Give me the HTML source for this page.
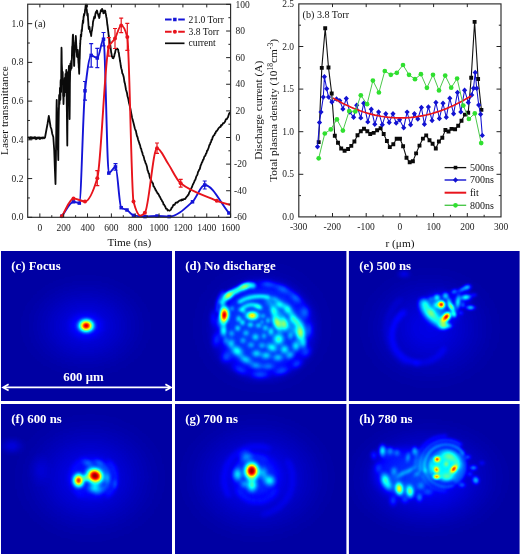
<!DOCTYPE html>
<html lang="en"><head><meta charset="utf-8"><title>Figure</title>
<style>html,body{margin:0;padding:0;background:#fff;}svg{display:block;font-family:"Liberation Serif","DejaVu Serif",serif;}.tk{font-size:9.5px;fill:#222;}.ax{font-size:11.3px;fill:#111;}.lg{font-size:9.6px;fill:#111;}.pl{font-size:12.8px;font-weight:bold;fill:#fff;}</style></head><body>
<svg width="520" height="554" viewBox="0 0 520 554">
<rect width="520" height="554" fill="#fff"/>
<defs>
<radialGradient id="gb"><stop offset="0" stop-color="#fff" stop-opacity="1"/><stop offset="0.2" stop-color="#fff" stop-opacity="0.88"/><stop offset="0.4" stop-color="#fff" stop-opacity="0.60"/><stop offset="0.6" stop-color="#fff" stop-opacity="0.32"/><stop offset="0.8" stop-color="#fff" stop-opacity="0.11"/><stop offset="1" stop-color="#fff" stop-opacity="0"/></radialGradient>
<filter id="jet" x="0" y="0" width="1" height="1" color-interpolation-filters="sRGB"><feGaussianBlur stdDeviation="0.85"/><feComponentTransfer><feFuncR type="table" tableValues="0 0 0 0 0.5 1 1 1 0.5"/><feFuncG type="table" tableValues="0 0 0.5 1 1 1 0.5 0 0"/><feFuncB type="table" tableValues="0.5 1 1 1 0.5 0 0 0 0"/><feFuncA type="linear" slope="0" intercept="1"/></feComponentTransfer></filter>
<filter id="b1" x="-0.3" y="-0.3" width="1.6" height="1.6"><feGaussianBlur stdDeviation="1.1"/></filter>
<filter id="b2" x="-0.3" y="-0.3" width="1.6" height="1.6"><feGaussianBlur stdDeviation="2.2"/></filter>
<filter id="b4" x="-0.4" y="-0.4" width="1.8" height="1.8"><feGaussianBlur stdDeviation="4.5"/></filter>
</defs>
<g id="plot-a">
<polyline fill="none" stroke="#0a0a0a" stroke-width="1.8" stroke-linejoin="round" points="27.7,138 29,137.2 30,139 31,137 32,138.8 33,137.2 34,138.6 35,137 36,139.2 37,137.4 38,138.6 39,137.2 40,139 41,137.4 42,138.5 43,137.3 44,138.4 45,137.5 46.2,131 47.5,124 48.8,116 49.8,122 50.6,127 51.4,129 52.3,134 53.3,137 54.2,150 54.9,170 55.5,184 55.9,160 56.3,128 56.43,117 56.56,106.03 56.7,100 56.83,107.45 56.96,107.6 57.1,118 57.23,122.98 57.36,125.9 57.5,132 57.63,133.52 57.76,143.95 57.9,150 58.03,148.67 58.16,155.94 58.3,160 58.43,142.5 58.56,129.51 58.7,120 58.83,111.33 58.96,107.43 59.1,96 59.23,94.88 59.36,98.51 59.5,104 59.63,99.99 59.76,97.92 59.9,88 60.03,92.73 60.16,94.89 60.3,100 60.43,98.16 60.56,82.27 60.7,80 60.83,87.54 60.96,85.82 61.1,92 61.23,73.82 61.36,58.94 61.5,47.7 61.63,51.82 61.76,62.94 61.9,66 62.03,68.75 62.16,78.7 62.3,84 62.43,81.43 62.56,74.8 62.7,72 62.83,80.4 62.96,83.47 63.1,96 63.23,94.24 63.36,98.34 63.5,104 63.63,99.86 63.76,91.4 63.9,86 64.03,87.44 64.16,93.46 64.3,96 64.43,89.59 64.56,82.12 64.7,78 64.83,85.56 64.96,89.23 65.1,92 65.23,83.5 65.36,80.86 65.5,74 65.63,78.87 65.76,86.99 65.9,88 66.03,84.35 66.16,74 66.3,70 66.43,84.7 66.56,85.98 66.7,100 66.9,114.2 67.1,132.6 67.3,145.5 67.43,127 67.56,115.36 67.7,100 67.83,86.15 67.96,83.2 68.1,72 68.23,77.29 68.36,78.01 68.5,80 68.63,79.13 68.76,68.9 68.9,66 69.03,75.87 69.16,82.78 69.3,90 69.4,100.37 69.5,108.7 69.6,119 69.7,110.85 69.8,100.35 69.9,84 70.03,77.14 70.16,72.44 70.3,64 70.47,63.34 70.63,69.17 70.8,70 70.93,67.91 71.06,67.02 71.2,61 71.33,65.24 71.46,64.33 71.6,68 71.73,62.03 71.86,58.45 72,52 72.17,46.5 72.33,46.49 72.5,44 72.67,38.91 72.83,35.5 73,34.6 73.13,36.38 73.26,45.05 73.4,48 73.53,49.08 73.66,53.09 73.8,58 73.93,59.99 74.06,65.51 74.2,66 74.37,58.2 74.53,55.14 74.7,50 74.87,47.66 75.03,47.02 75.2,42 75.4,41.94 75.6,40.22 75.8,36 75.97,37.97 76.13,42.09 76.3,46 76.47,47.13 76.63,52.27 76.8,52 76.97,56.4 77.13,53.21 77.3,57 77.47,52.75 77.63,50.77 77.8,50 77.97,51.7 78.13,56.51 78.3,60 78.47,63.17 78.63,63.86 78.8,68 78.93,66.94 79.06,71.34 79.2,73.8 79.33,68.46 79.46,65.09 79.6,60 79.73,58.76 79.86,53.22 80,48 80.13,45.45 80.26,43.43 80.4,40 80.6,39.74 80.8,34.68 81,36 81.2,36.42 81.4,33.72 81.6,30 81.8,31.26 82,29.81 82.2,27 82.37,25.03 82.53,23.75 82.7,23 82.9,20.29 83.1,23.15 83.3,22 83.47,17.72 83.63,16.1 83.8,17 83.93,14.72 84.06,13.92 84.2,15.4 84.5,13.75 84.8,13 85.05,9.75 85.3,9 85.65,5.4 86,4.6 86.25,5.82 86.5,9 86.75,9.38 87,12 87.15,13.32 87.3,15.4 87.55,13.37 87.8,14 88.05,19.05 88.3,22 88.55,25.82 88.8,29 89.15,27.02 89.5,27 89.75,28.81 90,32 90.3,32.07 90.6,33 90.9,34.12 91.2,36 91.5,32.44 91.8,31 92.1,29.98 92.4,27 92.7,25.88 93,22 93.25,20.9 93.5,20 93.85,18.45 94.2,17 94.6,16.34 95,18 95.3,14.39 95.6,13 96.05,11.81 96.5,11.5 96.85,10.49 97.2,10.8 97.5,13.32 97.8,14 98.15,14.05 98.5,16 98.85,15.66 99.2,18 99.5,17.26 99.8,14 100.15,13.08 100.5,12 100.85,10.26 101.2,10.5 101.5,10.87 101.8,11 102.05,8.78 102.3,9.2 102.65,10.18 103,11 103.4,13.24 103.8,12.8 104.1,12.92 104.4,11 104.7,11.3 105,10.5 105.3,11.08 105.6,13 105.95,14.63 106.3,17 106.65,18.32 107,21.5 107.3,24.51 107.6,26 107.95,29.09 108.3,32 108.75,36.03 109.2,38.5 109.6,40.77 110,44 110.4,45.72 110.8,49 111.15,52.27 111.5,53.8 111.9,56.51 112.3,56.5 112.65,58.09 113,57.7 113.4,58.21 113.8,57 114.2,56.39 114.6,54 115,53.17 115.4,51 115.8,49.48 116.2,49.5 116.6,49.05 117,48.5 117.4,48.6 117.8,49.5 118.15,49.58 118.5,52.3 118.85,52.83 119.2,56 119.6,57.88 120,61 120.4,62.83 120.8,66 121.3,68.54 121.8,70 122.3,73.28 122.8,74 123.3,75.6 123.8,77.5 124.4,81.87 125,83.8 126,89.77 127,93 127.5,96.32 128,97.76 128.5,100 129,103 129.5,104.76 130,106.95 130.5,109.22 131,112 131.5,114.47 132,117.22 132.5,119.36 133,121 133.6,123.21 134.2,125.78 134.8,128.29 135.4,130 135.93,131 136.45,133.79 136.97,135.99 137.5,137 138,139.26 138.5,140.95 139,142.21 139.5,144 140.06,145.12 140.62,147.92 141.18,148.8 141.74,151.34 142.3,152.5 142.84,155.05 143.38,155.71 143.92,157.42 144.46,160.1 145,161 145.5,163.07 146,163.74 146.5,165.33 147,167.04 147.5,170.06 148,171 148.5,173.09 149,173.43 149.5,176.19 150,178 150.5,178.95 151,180.2 151.5,180.98 152,182.39 152.5,182.69 153,183.53 153.5,186.3 154,186.5 154.5,187.69 155,188.38 155.5,190.03 156,190.05 156.5,191.75 157,192 157.52,193.51 158.04,193.32 158.56,194.31 159.08,195.31 159.6,196.6 160.2,197.23 160.8,198.96 161.4,199.47 162,201 162.5,201.75 163,202.14 163.5,204.44 164,204.34 164.5,205.5 165,206.22 165.5,207.25 166,208.63 166.5,208.7 167.07,209.06 167.63,210.45 168.2,210.2 168.7,210.34 169.2,210.52 169.7,210.6 170.35,210.09 171,209.5 171.5,207.8 172,207.73 172.5,207 173,205.76 173.5,204.77 174,205 174.6,204.84 175.2,203.6 175.73,202.64 176.27,202.82 176.8,202.5 177.37,202.57 177.93,201.93 178.5,201.5 179.13,200.75 179.77,200.67 180.4,200.2 180.93,200.25 181.45,200.61 181.97,199.34 182.5,200 183.05,199.91 183.6,199.15 184.15,199 184.7,199.2 185.3,198.96 185.9,197.75 186.5,197 187,196.38 187.5,196 188,194.8 188.5,194.74 189,193.2 189.5,192.05 190,191.3 190.5,190.06 191,189 191.5,187.86 192,187.01 192.5,185.5 193.07,184.21 193.63,183.16 194.2,181.9 194.77,180.39 195.35,179.74 195.93,177.83 196.5,176 197,175.48 197.5,174.4 198,171.97 198.5,171.31 199,170 199.55,169.45 200.1,167.91 200.65,165.3 201.2,164.6 201.77,162.64 202.35,161.95 202.93,160.01 203.5,159.5 204,157.83 204.5,156.33 205,156.21 205.5,155.21 206,153.5 206.53,153.09 207.05,150.63 207.57,150.51 208.1,149 208.7,147.66 209.3,145.11 209.9,144.81 210.5,142.5 211.02,142.14 211.54,139.6 212.06,139.71 212.58,137.52 213.1,136.5 213.73,135.38 214.37,135.18 215,133.2 215.54,133.12 216.08,131.23 216.62,131.04 217.16,130.51 217.7,129.8 218.27,128.81 218.85,127.85 219.43,127.37 220,127 220.5,126.9 221,125.14 221.5,125.6 222,124.89 222.5,124.5 223.03,123.08 223.55,123.1 224.07,123.07 224.6,122.3 225.23,121.22 225.87,119.32 226.5,119 227,119 227.5,117.77 228,117.22 228.5,115.5 229.13,113.62 229.77,112.74 230.4,112"/>
<path d="M61.9,216.2C65.77,211.4 69.63,201.8 73.5,201.8C75.43,201.8 77.37,203.1 79.3,203.1C81.2,203.1 83.1,107.75 85,90.8C87.07,72.36 89.13,55.4 91.2,55.4C93.23,55.4 95.27,58 97.3,58C99.37,58 101.43,39.2 103.5,39.2C105.27,39.2 107.03,173.1 108.8,173.1C111.03,173.1 113.27,166.9 115.5,166.9C117.4,166.9 119.3,206.27 121.2,207.7C123.13,209.16 125.07,208.97 127,210C129.17,211.16 131.33,214.97 133.5,215.4C137.33,216.17 141.17,216.6 145,216.6C149,216.6 153,216 157,216C161.03,216 165.07,216.6 169.1,216.6C176.9,216.6 184.7,208.83 192.5,201.8C196.57,198.13 200.63,185 204.7,185C212.77,185 220.83,203.67 228.9,213" fill="none" stroke="#1414d8" stroke-width="1.9" stroke-linejoin="round"/>
<path d="M85,81.5V100.1M83,81.5h4M83,100.1h4M91.2,43.6V67.2M89.2,43.6h4M89.2,67.2h4M97.3,48.4V67.6M95.3,48.4h4M95.3,67.6h4M103.5,32.5V45.9M101.5,32.5h4M101.5,45.9h4M115.5,163.6V170.2M113.5,163.6h4M113.5,170.2h4M204.7,181V189M202.7,181h4M202.7,189h4" fill="none" stroke="#1414d8" stroke-width="1.2"/>
<rect x="60.15" y="214.45" width="3.5" height="3.5" fill="#1414d8"/>
<rect x="71.75" y="200.05" width="3.5" height="3.5" fill="#1414d8"/>
<rect x="77.55" y="201.35" width="3.5" height="3.5" fill="#1414d8"/>
<rect x="83.25" y="89.05" width="3.5" height="3.5" fill="#1414d8"/>
<rect x="89.45" y="53.65" width="3.5" height="3.5" fill="#1414d8"/>
<rect x="95.55" y="56.25" width="3.5" height="3.5" fill="#1414d8"/>
<rect x="101.75" y="37.45" width="3.5" height="3.5" fill="#1414d8"/>
<rect x="107.05" y="171.35" width="3.5" height="3.5" fill="#1414d8"/>
<rect x="113.75" y="165.15" width="3.5" height="3.5" fill="#1414d8"/>
<rect x="119.45" y="205.95" width="3.5" height="3.5" fill="#1414d8"/>
<rect x="125.25" y="208.25" width="3.5" height="3.5" fill="#1414d8"/>
<rect x="131.75" y="213.65" width="3.5" height="3.5" fill="#1414d8"/>
<rect x="143.25" y="214.85" width="3.5" height="3.5" fill="#1414d8"/>
<rect x="155.25" y="214.25" width="3.5" height="3.5" fill="#1414d8"/>
<rect x="167.35" y="214.85" width="3.5" height="3.5" fill="#1414d8"/>
<rect x="190.75" y="200.05" width="3.5" height="3.5" fill="#1414d8"/>
<rect x="202.95" y="183.25" width="3.5" height="3.5" fill="#1414d8"/>
<rect x="227.15" y="211.25" width="3.5" height="3.5" fill="#1414d8"/>
<path d="M61.9,216.2C65.77,210.3 69.63,198.5 73.5,198.5C77.33,198.5 81.17,201.5 85,201.5C89.1,201.5 93.2,191.63 97.3,178.2C101.13,165.64 104.97,55.51 108.8,46.9C110.87,42.26 112.93,41.91 115,38.5C117.07,35.09 119.13,25.4 121.2,25.4C123.23,25.4 125.27,29.76 127.3,36.9C129.37,44.16 131.43,193.43 133.5,201.5C135.8,210.48 138.1,215.8 140.4,215.8C141.9,215.8 143.4,214.34 144.9,212.7C148.93,208.3 152.97,148.2 157,148.2C160.67,148.2 164.33,158.12 168,163.5C172.23,169.72 176.47,179.88 180.7,183.3C192.7,193.01 204.7,194.97 216.7,200.8C222,202.6 226,203.8 230.6,205" fill="none" stroke="#e8141c" stroke-width="1.9" stroke-linejoin="round"/>
<path d="M97.3,170.7V185.7M95.3,170.7h4M95.3,185.7h4M108.8,37.6V56.2M106.8,37.6h4M106.8,56.2h4M115,28.5V48.5M113,28.5h4M113,48.5h4M121.2,18.2V32.6M119.2,18.2h4M119.2,32.6h4M127.3,23.4V50.4M125.3,23.4h4M125.3,50.4h4M157,143V153.4M155,143h4M155,153.4h4M180.7,179.4V187.2M178.7,179.4h4M178.7,187.2h4" fill="none" stroke="#e8141c" stroke-width="1.2"/>
<circle cx="61.9" cy="216.2" r="2" fill="#e8141c"/>
<circle cx="73.5" cy="198.5" r="2" fill="#e8141c"/>
<circle cx="85" cy="201.5" r="2" fill="#e8141c"/>
<circle cx="97.3" cy="178.2" r="2" fill="#e8141c"/>
<circle cx="108.8" cy="46.9" r="2" fill="#e8141c"/>
<circle cx="115" cy="38.5" r="2" fill="#e8141c"/>
<circle cx="121.2" cy="25.4" r="2" fill="#e8141c"/>
<circle cx="127.3" cy="36.9" r="2" fill="#e8141c"/>
<circle cx="133.5" cy="201.5" r="2" fill="#e8141c"/>
<circle cx="144.9" cy="212.7" r="2" fill="#e8141c"/>
<circle cx="157" cy="148.2" r="2" fill="#e8141c"/>
<circle cx="180.7" cy="183.3" r="2" fill="#e8141c"/>
<circle cx="216.7" cy="200.8" r="2" fill="#e8141c"/>
<rect x="27.7" y="4.2" width="202.9" height="213.1" fill="none" stroke="#2a2a2a" stroke-width="1.15"/>
<path d="M39.85,217.3v-3.9M39.85,4.2v3.2M51.77,217.3v-2.1M63.69,217.3v-3.9M63.69,4.2v3.2M75.62,217.3v-2.1M87.54,217.3v-3.9M87.54,4.2v3.2M99.46,217.3v-2.1M111.38,217.3v-3.9M111.38,4.2v3.2M123.3,217.3v-2.1M135.23,217.3v-3.9M135.23,4.2v3.2M147.15,217.3v-2.1M159.07,217.3v-3.9M159.07,4.2v3.2M170.99,217.3v-2.1M182.91,217.3v-3.9M182.91,4.2v3.2M194.84,217.3v-2.1M206.76,217.3v-3.9M206.76,4.2v3.2M218.68,217.3v-2.1M230.6,217.3v-3.9M27.7,217.3h4.5M27.7,197.94h2.2M27.7,178.57h4.5M27.7,159.21h2.2M27.7,139.84h4.5M27.7,120.48h2.2M27.7,101.11h4.5M27.7,81.75h2.2M27.7,62.38h4.5M27.7,43.02h2.2M27.7,23.65h4.5M230.6,217.36h-4.5M230.6,204.05h-2.2M230.6,190.74h-4.5M230.6,177.43h-2.2M230.6,164.12h-4.5M230.6,150.81h-2.2M230.6,137.5h-4.5M230.6,124.19h-2.2M230.6,110.88h-4.5M230.6,97.57h-2.2M230.6,84.26h-4.5M230.6,70.95h-2.2M230.6,57.64h-4.5M230.6,44.33h-2.2M230.6,31.02h-4.5M230.6,17.71h-2.2M230.6,4.4h-4.5" fill="none" stroke="#222" stroke-width="1"/>
<text class="tk" x="39.85" y="230.6" text-anchor="middle">0</text>
<text class="tk" x="63.69" y="230.6" text-anchor="middle">200</text>
<text class="tk" x="87.54" y="230.6" text-anchor="middle">400</text>
<text class="tk" x="111.38" y="230.6" text-anchor="middle">600</text>
<text class="tk" x="135.23" y="230.6" text-anchor="middle">800</text>
<text class="tk" x="159.07" y="230.6" text-anchor="middle">1000</text>
<text class="tk" x="182.91" y="230.6" text-anchor="middle">1200</text>
<text class="tk" x="206.76" y="230.6" text-anchor="middle">1400</text>
<text class="tk" x="230.6" y="230.6" text-anchor="middle">1600</text>
<text class="tk" x="23.4" y="220.4" text-anchor="end">0.0</text>
<text class="tk" x="23.4" y="181.67" text-anchor="end">0.2</text>
<text class="tk" x="23.4" y="142.94" text-anchor="end">0.4</text>
<text class="tk" x="23.4" y="104.21" text-anchor="end">0.6</text>
<text class="tk" x="23.4" y="65.48" text-anchor="end">0.8</text>
<text class="tk" x="23.4" y="26.75" text-anchor="end">1.0</text>
<text class="tk" x="234" y="220.46">-60</text>
<text class="tk" x="234" y="193.84">-40</text>
<text class="tk" x="234" y="167.22">-20</text>
<text class="tk" x="235.6" y="140.6">0</text>
<text class="tk" x="235.6" y="113.98">20</text>
<text class="tk" x="235.6" y="87.36">40</text>
<text class="tk" x="235.6" y="60.74">60</text>
<text class="tk" x="235.6" y="34.12">80</text>
<text class="tk" x="235.6" y="7.5">100</text>
<text class="ax" x="129.3" y="246" text-anchor="middle">Time (ns)</text>
<text class="ax" transform="translate(8,110.6) rotate(-90)" text-anchor="middle">Laser transmittance</text>
<text class="ax" transform="translate(262,110.3) rotate(-90)" text-anchor="middle">Discharge current (A)</text>
<text class="lg" x="34.6" y="26.6" style="font-size:10px">(a)</text>
<path d="M165,19.5h6.6M178.2,19.5h6.6" stroke="#1414d8" stroke-width="1.9"/><rect x="173.1" y="17.75" width="3.5" height="3.5" fill="#1414d8"/>
<path d="M165,31.7h6.6M178.2,31.7h6.6" stroke="#e8141c" stroke-width="1.9"/><circle cx="174.9" cy="31.7" r="2" fill="#e8141c"/>
<path d="M165,43.3h19.5" stroke="#0a0a0a" stroke-width="1.7"/>
<text class="lg" x="188.6" y="22.6">21.0 Torr</text>
<text class="lg" x="188.6" y="34.8">3.8 Torr</text>
<text class="lg" x="188.6" y="46.3">current</text>
</g>
<g id="plot-b">
<polyline fill="none" stroke="#111" stroke-width="1.1" points="318.7,142.1 321.8,67.9 325.2,28.2 328.5,67.5 331.7,93.5 334.8,135.8 338,142.7 341.2,148.5 344.6,150.8 348.1,149 351.3,145.9 354.4,141.5 357.5,135.2 360.8,131.2 364,128.8 367.3,131.2 370.2,134 373.7,132.9 377.1,130.2 380.6,128.2 383.7,134 386.9,141 389.8,147.1 393.3,144.2 396.7,138.7 400,138.7 403.1,146.2 406.5,157.7 409.7,162.3 412.9,161.2 416.1,153.4 419.5,145.6 422.9,138.6 426.2,135.4 429.5,140.3 432.6,143.8 435.8,148.5 438.9,141.5 442.3,137.7 445.4,130 448.5,131.5 451.5,128.9 455.1,129.2 458.2,125.8 461.5,120.8 464.9,114.6 468.2,112.8 471.2,77.7 474.6,21.9 478.1,79 481.4,109.9"/>
<path d="M316.75,140.15h3.9v3.9h-3.9zM319.85,65.95h3.9v3.9h-3.9zM323.25,26.25h3.9v3.9h-3.9zM326.55,65.55h3.9v3.9h-3.9zM329.75,91.55h3.9v3.9h-3.9zM332.85,133.85h3.9v3.9h-3.9zM336.05,140.75h3.9v3.9h-3.9zM339.25,146.55h3.9v3.9h-3.9zM342.65,148.85h3.9v3.9h-3.9zM346.15,147.05h3.9v3.9h-3.9zM349.35,143.95h3.9v3.9h-3.9zM352.45,139.55h3.9v3.9h-3.9zM355.55,133.25h3.9v3.9h-3.9zM358.85,129.25h3.9v3.9h-3.9zM362.05,126.85h3.9v3.9h-3.9zM365.35,129.25h3.9v3.9h-3.9zM368.25,132.05h3.9v3.9h-3.9zM371.75,130.95h3.9v3.9h-3.9zM375.15,128.25h3.9v3.9h-3.9zM378.65,126.25h3.9v3.9h-3.9zM381.75,132.05h3.9v3.9h-3.9zM384.95,139.05h3.9v3.9h-3.9zM387.85,145.15h3.9v3.9h-3.9zM391.35,142.25h3.9v3.9h-3.9zM394.75,136.75h3.9v3.9h-3.9zM398.05,136.75h3.9v3.9h-3.9zM401.15,144.25h3.9v3.9h-3.9zM404.55,155.75h3.9v3.9h-3.9zM407.75,160.35h3.9v3.9h-3.9zM410.95,159.25h3.9v3.9h-3.9zM414.15,151.45h3.9v3.9h-3.9zM417.55,143.65h3.9v3.9h-3.9zM420.95,136.65h3.9v3.9h-3.9zM424.25,133.45h3.9v3.9h-3.9zM427.55,138.35h3.9v3.9h-3.9zM430.65,141.85h3.9v3.9h-3.9zM433.85,146.55h3.9v3.9h-3.9zM436.95,139.55h3.9v3.9h-3.9zM440.35,135.75h3.9v3.9h-3.9zM443.45,128.05h3.9v3.9h-3.9zM446.55,129.55h3.9v3.9h-3.9zM449.55,126.95h3.9v3.9h-3.9zM453.15,127.25h3.9v3.9h-3.9zM456.25,123.85h3.9v3.9h-3.9zM459.55,118.85h3.9v3.9h-3.9zM462.95,112.65h3.9v3.9h-3.9zM466.25,110.85h3.9v3.9h-3.9zM469.25,75.75h3.9v3.9h-3.9zM472.65,19.95h3.9v3.9h-3.9zM476.15,77.05h3.9v3.9h-3.9zM479.45,107.95h3.9v3.9h-3.9z" fill="#0a0a0a"/>
<polyline fill="none" stroke="#1212d2" stroke-width="1.05" points="317.5,146.7 319.5,122.5 321,112.1 323.3,97.1 324.4,76.8 326.7,88.7 328.5,97.1 331.9,102.1 336.5,99 339.8,100.8 342.9,109 346.3,98.5 349.8,112.1 353.6,117.3 356.7,105.3 360.8,117.9 363.7,103.2 367.8,121.9 371.3,109.2 374.8,124.2 378.6,111.9 382.3,124.8 385.8,113.8 389.2,122.5 393,113.8 396.2,123.1 399.6,119.8 403.7,127.7 407.1,112.1 410.6,124.8 414.4,113.8 417.8,119 421.4,107.5 424.4,124.2 428.4,106.9 432.1,120.5 435.9,102.5 439.4,118.5 443,103.3 446.3,117.3 449.8,98.3 453.6,113.7 457.5,92.5 460.8,111.9 464.6,90.2 468.3,102.5 471.7,95 473.5,88.3 475.2,72.5 476.7,88.3 478.7,105 480.6,114.2 482.3,135.4"/>
<path d="M317.5,144l2.6,2.7l-2.6,2.7l-2.6,-2.7zM319.5,119.8l2.6,2.7l-2.6,2.7l-2.6,-2.7zM321,109.4l2.6,2.7l-2.6,2.7l-2.6,-2.7zM323.3,94.4l2.6,2.7l-2.6,2.7l-2.6,-2.7zM324.4,74.1l2.6,2.7l-2.6,2.7l-2.6,-2.7zM326.7,86l2.6,2.7l-2.6,2.7l-2.6,-2.7zM328.5,94.4l2.6,2.7l-2.6,2.7l-2.6,-2.7zM331.9,99.4l2.6,2.7l-2.6,2.7l-2.6,-2.7zM336.5,96.3l2.6,2.7l-2.6,2.7l-2.6,-2.7zM339.8,98.1l2.6,2.7l-2.6,2.7l-2.6,-2.7zM342.9,106.3l2.6,2.7l-2.6,2.7l-2.6,-2.7zM346.3,95.8l2.6,2.7l-2.6,2.7l-2.6,-2.7zM349.8,109.4l2.6,2.7l-2.6,2.7l-2.6,-2.7zM353.6,114.6l2.6,2.7l-2.6,2.7l-2.6,-2.7zM356.7,102.6l2.6,2.7l-2.6,2.7l-2.6,-2.7zM360.8,115.2l2.6,2.7l-2.6,2.7l-2.6,-2.7zM363.7,100.5l2.6,2.7l-2.6,2.7l-2.6,-2.7zM367.8,119.2l2.6,2.7l-2.6,2.7l-2.6,-2.7zM371.3,106.5l2.6,2.7l-2.6,2.7l-2.6,-2.7zM374.8,121.5l2.6,2.7l-2.6,2.7l-2.6,-2.7zM378.6,109.2l2.6,2.7l-2.6,2.7l-2.6,-2.7zM382.3,122.1l2.6,2.7l-2.6,2.7l-2.6,-2.7zM385.8,111.1l2.6,2.7l-2.6,2.7l-2.6,-2.7zM389.2,119.8l2.6,2.7l-2.6,2.7l-2.6,-2.7zM393,111.1l2.6,2.7l-2.6,2.7l-2.6,-2.7zM396.2,120.4l2.6,2.7l-2.6,2.7l-2.6,-2.7zM399.6,117.1l2.6,2.7l-2.6,2.7l-2.6,-2.7zM403.7,125l2.6,2.7l-2.6,2.7l-2.6,-2.7zM407.1,109.4l2.6,2.7l-2.6,2.7l-2.6,-2.7zM410.6,122.1l2.6,2.7l-2.6,2.7l-2.6,-2.7zM414.4,111.1l2.6,2.7l-2.6,2.7l-2.6,-2.7zM417.8,116.3l2.6,2.7l-2.6,2.7l-2.6,-2.7zM421.4,104.8l2.6,2.7l-2.6,2.7l-2.6,-2.7zM424.4,121.5l2.6,2.7l-2.6,2.7l-2.6,-2.7zM428.4,104.2l2.6,2.7l-2.6,2.7l-2.6,-2.7zM432.1,117.8l2.6,2.7l-2.6,2.7l-2.6,-2.7zM435.9,99.8l2.6,2.7l-2.6,2.7l-2.6,-2.7zM439.4,115.8l2.6,2.7l-2.6,2.7l-2.6,-2.7zM443,100.6l2.6,2.7l-2.6,2.7l-2.6,-2.7zM446.3,114.6l2.6,2.7l-2.6,2.7l-2.6,-2.7zM449.8,95.6l2.6,2.7l-2.6,2.7l-2.6,-2.7zM453.6,111l2.6,2.7l-2.6,2.7l-2.6,-2.7zM457.5,89.8l2.6,2.7l-2.6,2.7l-2.6,-2.7zM460.8,109.2l2.6,2.7l-2.6,2.7l-2.6,-2.7zM464.6,87.5l2.6,2.7l-2.6,2.7l-2.6,-2.7zM468.3,99.8l2.6,2.7l-2.6,2.7l-2.6,-2.7zM471.7,92.3l2.6,2.7l-2.6,2.7l-2.6,-2.7zM473.5,85.6l2.6,2.7l-2.6,2.7l-2.6,-2.7zM475.2,69.8l2.6,2.7l-2.6,2.7l-2.6,-2.7zM476.7,85.6l2.6,2.7l-2.6,2.7l-2.6,-2.7zM478.7,102.3l2.6,2.7l-2.6,2.7l-2.6,-2.7zM480.6,111.5l2.6,2.7l-2.6,2.7l-2.6,-2.7zM482.3,132.7l2.6,2.7l-2.6,2.7l-2.6,-2.7z" fill="#1212d2"/>
<polyline fill="none" stroke="#e8141c" stroke-width="1.7" points="333,97.91 336,99.65 339,101.31 342,102.89 345,104.4 348,105.82 351,107.16 354,108.43 357,109.61 360,110.72 363,111.75 366,112.69 369,113.56 372,114.35 375,115.06 378,115.69 381,116.24 384,116.72 387,117.11 390,117.42 393,117.66 396,117.81 399,117.89 402,117.89 405,117.81 408,117.65 411,117.41 414,117.09 417,116.69 420,116.21 423,115.65 426,115.02 429,114.3 432,113.51 435,112.63 438,111.68 441,110.65 444,109.54 447,108.35 450,107.08 453,105.73 456,104.3 459,102.79 462,101.2 465,99.54 468,97.79 471,95.97 471.2,95.84"/>
<polyline fill="none" stroke="#4cc84c" stroke-width="1.0" points="318.7,158.3 324.8,133.5 330.8,129.4 336.9,119.4 342.9,130.6 349.2,111 355.3,111.5 360.8,95.3 367.1,104.2 372.9,80.6 378.9,92.5 384.8,71 390.8,74.8 396.8,72.8 403,65 409,74.8 415,79.2 420.9,74.2 426.9,87.8 433,74.8 439,90.4 445.2,75.6 451.2,87.7 457.1,78.5 463.3,105.6 468.9,119 474.8,113.4 481.2,143.1"/>
<circle cx="318.7" cy="158.3" r="2.35" fill="#2fe02f"/>
<circle cx="324.8" cy="133.5" r="2.35" fill="#2fe02f"/>
<circle cx="330.8" cy="129.4" r="2.35" fill="#2fe02f"/>
<circle cx="336.9" cy="119.4" r="2.35" fill="#2fe02f"/>
<circle cx="342.9" cy="130.6" r="2.35" fill="#2fe02f"/>
<circle cx="349.2" cy="111" r="2.35" fill="#2fe02f"/>
<circle cx="355.3" cy="111.5" r="2.35" fill="#2fe02f"/>
<circle cx="360.8" cy="95.3" r="2.35" fill="#2fe02f"/>
<circle cx="367.1" cy="104.2" r="2.35" fill="#2fe02f"/>
<circle cx="372.9" cy="80.6" r="2.35" fill="#2fe02f"/>
<circle cx="378.9" cy="92.5" r="2.35" fill="#2fe02f"/>
<circle cx="384.8" cy="71" r="2.35" fill="#2fe02f"/>
<circle cx="390.8" cy="74.8" r="2.35" fill="#2fe02f"/>
<circle cx="396.8" cy="72.8" r="2.35" fill="#2fe02f"/>
<circle cx="403" cy="65" r="2.35" fill="#2fe02f"/>
<circle cx="409" cy="74.8" r="2.35" fill="#2fe02f"/>
<circle cx="415" cy="79.2" r="2.35" fill="#2fe02f"/>
<circle cx="420.9" cy="74.2" r="2.35" fill="#2fe02f"/>
<circle cx="426.9" cy="87.8" r="2.35" fill="#2fe02f"/>
<circle cx="433" cy="74.8" r="2.35" fill="#2fe02f"/>
<circle cx="439" cy="90.4" r="2.35" fill="#2fe02f"/>
<circle cx="445.2" cy="75.6" r="2.35" fill="#2fe02f"/>
<circle cx="451.2" cy="87.7" r="2.35" fill="#2fe02f"/>
<circle cx="457.1" cy="78.5" r="2.35" fill="#2fe02f"/>
<circle cx="463.3" cy="105.6" r="2.35" fill="#2fe02f"/>
<circle cx="468.9" cy="119" r="2.35" fill="#2fe02f"/>
<circle cx="474.8" cy="113.4" r="2.35" fill="#2fe02f"/>
<circle cx="481.2" cy="143.1" r="2.35" fill="#2fe02f"/>
<rect x="298.8" y="3.9" width="202.2" height="213" fill="none" stroke="#2a2a2a" stroke-width="1.15"/>
<path d="M332.5,216.9v-3.9M332.5,3.9v3.2M366.2,216.9v-3.9M366.2,3.9v3.2M399.9,216.9v-3.9M399.9,3.9v3.2M433.6,216.9v-3.9M433.6,3.9v3.2M467.3,216.9v-3.9M467.3,3.9v3.2M315.65,216.9v-2.1M349.35,216.9v-2.1M383.05,216.9v-2.1M416.75,216.9v-2.1M450.45,216.9v-2.1M484.15,216.9v-2.1M298.8,195.6h2.2 M501,195.6h-2.2M298.8,174.3h4.5 M501,174.3h-4.5M298.8,153h2.2 M501,153h-2.2M298.8,131.7h4.5 M501,131.7h-4.5M298.8,110.4h2.2 M501,110.4h-2.2M298.8,89.1h4.5 M501,89.1h-4.5M298.8,67.8h2.2 M501,67.8h-2.2M298.8,46.5h4.5 M501,46.5h-4.5M298.8,25.2h2.2 M501,25.2h-2.2" fill="none" stroke="#222" stroke-width="1"/>
<text class="tk" x="298.6" y="229.6" text-anchor="middle">-300</text>
<text class="tk" x="332.3" y="229.6" text-anchor="middle">-200</text>
<text class="tk" x="366" y="229.6" text-anchor="middle">-100</text>
<text class="tk" x="399.9" y="229.6" text-anchor="middle">0</text>
<text class="tk" x="433.6" y="229.6" text-anchor="middle">100</text>
<text class="tk" x="467.3" y="229.6" text-anchor="middle">200</text>
<text class="tk" x="501" y="229.6" text-anchor="middle">300</text>
<text class="tk" x="294" y="220" text-anchor="end">0.0</text>
<text class="tk" x="294" y="177.4" text-anchor="end">0.5</text>
<text class="tk" x="294" y="134.8" text-anchor="end">1.0</text>
<text class="tk" x="294" y="92.2" text-anchor="end">1.5</text>
<text class="tk" x="294" y="49.6" text-anchor="end">2.0</text>
<text class="tk" x="294" y="7" text-anchor="end">2.5</text>
<text class="ax" x="400" y="247.4" text-anchor="middle">r (μm)</text>
<text class="ax" transform="translate(277,110.4) rotate(-90)" text-anchor="middle">Total plasma density (10<tspan dy="-4" font-size="7.6">18</tspan><tspan dy="4">cm</tspan><tspan dy="-4" font-size="7.6">-3</tspan><tspan dy="4">)</tspan></text>
<text class="lg" x="302.6" y="18.2" style="font-size:10.1px">(b) 3.8 Torr</text>
<path d="M444.6,167.6h21.6" stroke="#111" stroke-width="1.3"/><rect x="453.7" y="165.8" width="3.6" height="3.6" fill="#0a0a0a"/>
<path d="M444.6,180h21.6" stroke="#1212d2" stroke-width="1.4"/><path d="M455.5,177.3l2.6,2.7l-2.6,2.7l-2.6,-2.7z" fill="#1212d2"/>
<path d="M444.6,192.7h21.6" stroke="#e8141c" stroke-width="2"/>
<path d="M444.6,205.3h21.6" stroke="#4cc84c" stroke-width="1.4"/><circle cx="455.5" cy="205.3" r="2.35" fill="#2fe02f"/>
<text class="lg" x="470" y="170.8" style="font-size:10px">500ns</text>
<text class="lg" x="470" y="183.2" style="font-size:10px">700ns</text>
<text class="lg" x="470" y="195.9" style="font-size:10px">fit</text>
<text class="lg" x="470" y="208.5" style="font-size:10px">800ns</text>
</g>
<g id="panels">
<clipPath id="cp00"><rect x="1" y="251" width="171" height="150"/></clipPath>
<g clip-path="url(#cp00)"><g filter="url(#jet)">
<rect x="-2" y="248" width="177" height="156" fill="#090909"/>
<ellipse cx="86" cy="326" rx="70" ry="55" fill="url(#gb)" opacity="0.07"/>
<ellipse cx="86.1" cy="325.7" rx="22" ry="17" fill="url(#gb)" opacity="0.1"/>
<ellipse cx="86.2" cy="325.7" rx="10.4" ry="8.8" fill="url(#gb)" opacity="0.97"/>
<ellipse cx="86.2" cy="325.7" rx="4" ry="3.4" fill="url(#gb)" opacity="0.35"/>
</g></g>
<text class="pl" x="11.3" y="270.2">(c) Focus</text>
<clipPath id="cp01"><rect x="175" y="251" width="171.4" height="150"/></clipPath>
<g clip-path="url(#cp01)"><g filter="url(#jet)">
<rect x="172" y="248" width="177.4" height="156" fill="#090909"/>
<ellipse cx="263" cy="329" rx="43" ry="43" fill="#fff" opacity="0.07" filter="url(#b4)"/>
<ellipse cx="264" cy="330" rx="52" ry="50" fill="#fff" opacity="0.04" filter="url(#b4)"/>
<ellipse cx="262" cy="327" rx="75" ry="72" fill="url(#gb)" opacity="0.06"/>
<polyline points="217,311 217.5,304 219.5,297.5 223,292" fill="none" stroke="#fff" stroke-width="3" stroke-linecap="round" stroke-linejoin="round" opacity="0.16" filter="url(#b1)"/>
<polyline points="222.5,302 225,298 228.5,295.2 232.5,292.6 236.5,290.6 240.5,288.4 244.6,286.5 249.2,285 253,285.5" fill="none" stroke="#fff" stroke-width="5.6" stroke-linecap="round" stroke-linejoin="round" opacity="0.3" filter="url(#b1)"/>
<ellipse cx="228.6" cy="295.2" rx="8.53" ry="5.58" fill="url(#gb)" opacity="0.42" transform="rotate(-38 228.6 295.2)"/>
<ellipse cx="244.4" cy="286.6" rx="8.53" ry="5.27" fill="url(#gb)" opacity="0.32" transform="rotate(-22 244.4 286.6)"/>
<ellipse cx="236.5" cy="290.6" rx="6.2" ry="4.65" fill="url(#gb)" opacity="0.12" transform="rotate(-30 236.5 290.6)"/>
<polyline points="221.5,306 222.5,312 224,320 224.4,327 224,332" fill="none" stroke="#fff" stroke-width="6.5" stroke-linecap="round" stroke-linejoin="round" opacity="0.2" filter="url(#b2)"/>
<ellipse cx="223.5" cy="331" rx="5.42" ry="7.75" fill="url(#gb)" opacity="0.16"/>
<ellipse cx="226" cy="340.5" rx="4.65" ry="6.2" fill="url(#gb)" opacity="0.14"/>
<ellipse cx="224.4" cy="314.9" rx="6.82" ry="11.78" fill="url(#gb)" opacity="0.92" transform="rotate(4 224.4 314.9)"/>
<ellipse cx="224.4" cy="315.2" rx="3.41" ry="6.82" fill="url(#gb)" opacity="0.5" transform="rotate(4 224.4 315.2)"/>
<ellipse cx="219.5" cy="322" rx="5.42" ry="9.3" fill="url(#gb)" opacity="0.14"/>
<polyline points="239.5,302 243.5,299.6 248,298 253,296.8 258.5,296.2 263.5,296.3 268,297.2" fill="none" stroke="#fff" stroke-width="3.4" stroke-linecap="round" stroke-linejoin="round" opacity="0.3" filter="url(#b1)"/>
<polyline points="240.4,310 243.8,307.2 248,305.2 252.5,304.6 256.5,305.6 260.5,308" fill="none" stroke="#fff" stroke-width="3.2" stroke-linecap="round" stroke-linejoin="round" opacity="0.28" filter="url(#b1)"/>
<ellipse cx="258" cy="306.3" rx="5.58" ry="4.03" fill="url(#gb)" opacity="0.16"/>
<ellipse cx="252.2" cy="315.6" rx="9.61" ry="6.51" fill="url(#gb)" opacity="0.6"/>
<ellipse cx="252.2" cy="315.6" rx="4.65" ry="3.1" fill="url(#gb)" opacity="0.2"/>
<ellipse cx="243.5" cy="311" rx="4.03" ry="4.03" fill="url(#gb)" opacity="0.2"/>
<ellipse cx="238.8" cy="318.8" rx="4.34" ry="4.96" fill="url(#gb)" opacity="0.24"/>
<ellipse cx="242.5" cy="322.5" rx="4.03" ry="4.65" fill="url(#gb)" opacity="0.26"/>
<ellipse cx="250.4" cy="324.8" rx="4.65" ry="4.03" fill="url(#gb)" opacity="0.24"/>
<ellipse cx="258.5" cy="325.5" rx="4.65" ry="4.03" fill="url(#gb)" opacity="0.2"/>
<ellipse cx="237.7" cy="328.2" rx="4.34" ry="4.65" fill="url(#gb)" opacity="0.24"/>
<ellipse cx="265.4" cy="328" rx="4.34" ry="4.65" fill="url(#gb)" opacity="0.2"/>
<ellipse cx="232" cy="308.5" rx="3.41" ry="4.03" fill="url(#gb)" opacity="0.16"/>
<ellipse cx="263" cy="316" rx="3.72" ry="3.72" fill="url(#gb)" opacity="0.16"/>
<ellipse cx="268" cy="320.5" rx="3.41" ry="4.34" fill="url(#gb)" opacity="0.2"/>
<ellipse cx="262" cy="322" rx="3.1" ry="3.1" fill="url(#gb)" opacity="0.14"/>
<ellipse cx="246" cy="333" rx="4.65" ry="4.65" fill="url(#gb)" opacity="0.18"/>
<ellipse cx="255.5" cy="337" rx="5.27" ry="5.27" fill="url(#gb)" opacity="0.22"/>
<ellipse cx="264" cy="336" rx="4.03" ry="4.65" fill="url(#gb)" opacity="0.16"/>
<ellipse cx="243" cy="340.5" rx="4.65" ry="4.65" fill="url(#gb)" opacity="0.16"/>
<ellipse cx="251" cy="345" rx="5.27" ry="4.65" fill="url(#gb)" opacity="0.16"/>
<ellipse cx="262" cy="345.5" rx="5.27" ry="4.65" fill="url(#gb)" opacity="0.16"/>
<polyline points="268,300 272,305 277,311 283,318 289,325 294,331" fill="none" stroke="#fff" stroke-width="4.5" stroke-linecap="round" stroke-linejoin="round" opacity="0.17" filter="url(#b2)"/>
<polyline points="281,302 287,308 293,314 299,320 303,325" fill="none" stroke="#fff" stroke-width="3.5" stroke-linecap="round" stroke-linejoin="round" opacity="0.13" filter="url(#b2)"/>
<ellipse cx="277.4" cy="322.8" rx="6.51" ry="13.33" fill="url(#gb)" opacity="0.5" transform="rotate(-22 277.4 322.8)"/>
<ellipse cx="284.2" cy="324.4" rx="5.58" ry="10.23" fill="url(#gb)" opacity="0.4" transform="rotate(-15 284.2 324.4)"/>
<ellipse cx="273.5" cy="311" rx="5.27" ry="7.13" fill="url(#gb)" opacity="0.26" transform="rotate(-20 273.5 311)"/>
<ellipse cx="279.5" cy="304.5" rx="7.75" ry="5.27" fill="url(#gb)" opacity="0.26" transform="rotate(30 279.5 304.5)"/>
<ellipse cx="287.5" cy="309.5" rx="6.2" ry="8.53" fill="url(#gb)" opacity="0.26" transform="rotate(-30 287.5 309.5)"/>
<ellipse cx="292.5" cy="318.5" rx="5.58" ry="8.53" fill="url(#gb)" opacity="0.28" transform="rotate(-15 292.5 318.5)"/>
<ellipse cx="275" cy="299" rx="7.75" ry="4.03" fill="url(#gb)" opacity="0.16" transform="rotate(20 275 299)"/>
<ellipse cx="271" cy="331.5" rx="4.65" ry="6.2" fill="url(#gb)" opacity="0.24"/>
<ellipse cx="300.4" cy="332.3" rx="7.75" ry="14.88" fill="url(#gb)" opacity="0.5" transform="rotate(-8 300.4 332.3)"/>
<ellipse cx="296.5" cy="322" rx="5.27" ry="7.75" fill="url(#gb)" opacity="0.24" transform="rotate(-20 296.5 322)"/>
<ellipse cx="303.5" cy="343.5" rx="5.58" ry="7.75" fill="url(#gb)" opacity="0.22" transform="rotate(10 303.5 343.5)"/>
<ellipse cx="296" cy="346" rx="6.2" ry="7.75" fill="url(#gb)" opacity="0.26"/>
<ellipse cx="290.5" cy="335.5" rx="4.65" ry="6.2" fill="url(#gb)" opacity="0.18"/>
<ellipse cx="283" cy="289" rx="13.95" ry="6.2" fill="url(#gb)" opacity="0.14" transform="rotate(25 283 289)"/>
<ellipse cx="296" cy="298" rx="12.4" ry="6.2" fill="url(#gb)" opacity="0.14" transform="rotate(40 296 298)"/>
<ellipse cx="305" cy="312" rx="7.75" ry="10.85" fill="url(#gb)" opacity="0.14" transform="rotate(-10 305 312)"/>
<ellipse cx="268" cy="284" rx="12.4" ry="5.42" fill="url(#gb)" opacity="0.12" transform="rotate(8 268 284)"/>
<ellipse cx="309" cy="330" rx="6.2" ry="12.4" fill="url(#gb)" opacity="0.12"/>
<ellipse cx="306" cy="352" rx="7.75" ry="9.3" fill="url(#gb)" opacity="0.12" transform="rotate(30 306 352)"/>
<ellipse cx="297" cy="364" rx="9.3" ry="6.2" fill="url(#gb)" opacity="0.12" transform="rotate(-35 297 364)"/>
<ellipse cx="282" cy="371" rx="12.4" ry="6.2" fill="url(#gb)" opacity="0.12" transform="rotate(-15 282 371)"/>
<ellipse cx="260" cy="375" rx="13.95" ry="6.2" fill="url(#gb)" opacity="0.12"/>
<ellipse cx="240" cy="370" rx="12.4" ry="6.2" fill="url(#gb)" opacity="0.1" transform="rotate(25 240 370)"/>
<ellipse cx="226" cy="357" rx="7.75" ry="9.3" fill="url(#gb)" opacity="0.12" transform="rotate(35 226 357)"/>
<ellipse cx="216" cy="340" rx="6.2" ry="10.85" fill="url(#gb)" opacity="0.1" transform="rotate(10 216 340)"/>
<ellipse cx="213" cy="318" rx="4.65" ry="12.4" fill="url(#gb)" opacity="0.08"/>
<ellipse cx="278.5" cy="339.2" rx="8.06" ry="8.68" fill="url(#gb)" opacity="0.34"/>
<ellipse cx="272" cy="347.5" rx="8.68" ry="6.2" fill="url(#gb)" opacity="0.28" transform="rotate(25 272 347.5)"/>
<ellipse cx="284.5" cy="349.5" rx="6.82" ry="6.82" fill="url(#gb)" opacity="0.26"/>
<ellipse cx="290" cy="355" rx="7.13" ry="5.58" fill="url(#gb)" opacity="0.2" transform="rotate(-35 290 355)"/>
<ellipse cx="278" cy="357.5" rx="7.75" ry="5.58" fill="url(#gb)" opacity="0.2"/>
<ellipse cx="266" cy="355.5" rx="7.75" ry="5.58" fill="url(#gb)" opacity="0.22"/>
<ellipse cx="256.5" cy="353.5" rx="7.13" ry="5.58" fill="url(#gb)" opacity="0.22"/>
<ellipse cx="237" cy="351" rx="9.61" ry="7.13" fill="url(#gb)" opacity="0.3" transform="rotate(35 237 351)"/>
<ellipse cx="231" cy="343.5" rx="5.58" ry="7.13" fill="url(#gb)" opacity="0.22" transform="rotate(20 231 343.5)"/>
<ellipse cx="245.5" cy="359.5" rx="10.23" ry="5.89" fill="url(#gb)" opacity="0.22" transform="rotate(25 245.5 359.5)"/>
<ellipse cx="256" cy="365.5" rx="9.3" ry="5.27" fill="url(#gb)" opacity="0.16" transform="rotate(10 256 365.5)"/>
<ellipse cx="268" cy="366.5" rx="9.3" ry="4.96" fill="url(#gb)" opacity="0.12"/>
<ellipse cx="231.5" cy="333.5" rx="4.65" ry="5.27" fill="url(#gb)" opacity="0.16"/>
</g></g>
<text class="pl" x="185.3" y="270.2">(d) No discharge</text>
<clipPath id="cp02"><rect x="348.9" y="251" width="170.7" height="150"/></clipPath>
<g clip-path="url(#cp02)"><g filter="url(#jet)">
<rect x="345.9" y="248" width="176.7" height="156" fill="#090909"/>
<ellipse cx="430" cy="328" rx="75" ry="65" fill="url(#gb)" opacity="0.07"/>
<ellipse cx="441" cy="309" rx="18" ry="16" fill="#fff" opacity="0.07" filter="url(#b4)"/>
<ellipse cx="436" cy="309" rx="9" ry="9" fill="#fff" opacity="0.12" filter="url(#b2)"/>
<ellipse cx="462" cy="298" rx="10" ry="9" fill="#fff" opacity="0.05" filter="url(#b2)"/>
<path d="M417.56,362.89A28,28 0 0 1 403.94,312.06" fill="none" stroke="#fff" stroke-width="4.5" stroke-linecap="round" opacity="0.09" filter="url(#b2)"/>
<path d="M444.25,349A28,28 0 0 1 417.56,362.89" fill="none" stroke="#fff" stroke-width="4.5" stroke-linecap="round" opacity="0.05" filter="url(#b2)"/>
<path d="M406,364.64A40,40 0 0 1 400.29,299.36" fill="none" stroke="#fff" stroke-width="4" stroke-linecap="round" opacity="0.03" filter="url(#b2)"/>
<ellipse cx="404" cy="274" rx="9.3" ry="6.2" fill="url(#gb)" opacity="0.07"/>
<polyline points="423.5,303 425,308 428.5,313 433,317.5 438,321 443,324.5" fill="none" stroke="#fff" stroke-width="8.5" stroke-linecap="round" stroke-linejoin="round" opacity="0.3" filter="url(#b2)"/>
<ellipse cx="431.5" cy="312.5" rx="6.2" ry="6.2" fill="url(#gb)" opacity="0.14"/>
<ellipse cx="426" cy="304" rx="4.65" ry="6.2" fill="url(#gb)" opacity="0.1"/>
<ellipse cx="437" cy="297.5" rx="4.96" ry="4.96" fill="url(#gb)" opacity="0.34"/>
<ellipse cx="445.6" cy="295.8" rx="4.96" ry="5.27" fill="url(#gb)" opacity="0.3"/>
<ellipse cx="431" cy="299" rx="4.65" ry="4.65" fill="url(#gb)" opacity="0.14"/>
<ellipse cx="436" cy="305" rx="4.03" ry="5.27" fill="url(#gb)" opacity="0.2"/>
<ellipse cx="444" cy="325.5" rx="7.75" ry="5.27" fill="url(#gb)" opacity="0.34"/>
<ellipse cx="449.5" cy="326" rx="4.65" ry="3.72" fill="url(#gb)" opacity="0.2"/>
<ellipse cx="441.3" cy="304.5" rx="5.42" ry="5.42" fill="url(#gb)" opacity="0.97"/>
<ellipse cx="441.3" cy="304.5" rx="2.79" ry="2.79" fill="url(#gb)" opacity="0.6"/>
<ellipse cx="446.2" cy="317" rx="5.27" ry="8.06" fill="url(#gb)" opacity="0.97" transform="rotate(42 446.2 317)"/>
<ellipse cx="446.6" cy="316.4" rx="2.79" ry="4.65" fill="url(#gb)" opacity="0.6" transform="rotate(42 446.6 316.4)"/>
<ellipse cx="443" cy="320" rx="4.65" ry="4.65" fill="url(#gb)" opacity="0.3"/>
<ellipse cx="451.2" cy="306.6" rx="3.72" ry="8.68" fill="url(#gb)" opacity="0.56" transform="rotate(-32 451.2 306.6)"/>
<ellipse cx="449" cy="300.5" rx="3.1" ry="4.65" fill="url(#gb)" opacity="0.22" transform="rotate(-20 449 300.5)"/>
<ellipse cx="453.5" cy="313.5" rx="3.41" ry="5.27" fill="url(#gb)" opacity="0.3" transform="rotate(-25 453.5 313.5)"/>
<ellipse cx="454.2" cy="291.5" rx="5.27" ry="3.72" fill="url(#gb)" opacity="0.22" transform="rotate(-20 454.2 291.5)"/>
<ellipse cx="462" cy="289.5" rx="6.2" ry="3.41" fill="url(#gb)" opacity="0.22" transform="rotate(-25 462 289.5)"/>
<ellipse cx="467.2" cy="287.3" rx="6.2" ry="4.34" fill="url(#gb)" opacity="0.32" transform="rotate(-15 467.2 287.3)"/>
<ellipse cx="458" cy="302" rx="3.72" ry="11.47" fill="url(#gb)" opacity="0.32" transform="rotate(6 458 302)"/>
<ellipse cx="465.8" cy="297.3" rx="8.06" ry="4.03" fill="url(#gb)" opacity="0.38" transform="rotate(-8 465.8 297.3)"/>
<ellipse cx="470.6" cy="307.6" rx="6.82" ry="3.56" fill="url(#gb)" opacity="0.34"/>
<ellipse cx="463" cy="305" rx="3.1" ry="4.65" fill="url(#gb)" opacity="0.16"/>
<ellipse cx="454.4" cy="314.8" rx="3.72" ry="4.34" fill="url(#gb)" opacity="0.2"/>
<ellipse cx="461" cy="313" rx="3.72" ry="3.1" fill="url(#gb)" opacity="0.12"/>
<ellipse cx="474" cy="295" rx="4.65" ry="3.1" fill="url(#gb)" opacity="0.12"/>
</g></g>
<text class="pl" x="359.2" y="270.2">(e) 500 ns</text>
<clipPath id="cp10"><rect x="1" y="404" width="171" height="150"/></clipPath>
<g clip-path="url(#cp10)"><g filter="url(#jet)">
<rect x="-2" y="401" width="177" height="156" fill="#090909"/>
<ellipse cx="90" cy="478" rx="80" ry="68" fill="url(#gb)" opacity="0.08"/>
<ellipse cx="93" cy="478" rx="22" ry="20" fill="#fff" opacity="0.04" filter="url(#b4)"/>
<ellipse cx="12" cy="446" rx="16" ry="11" fill="url(#gb)" opacity="0.06"/>
<ellipse cx="40" cy="470" rx="14" ry="20" fill="url(#gb)" opacity="0.03"/>
<path d="M99.55,463.95A15.5,15.5 0 0 1 97.01,492.97" fill="none" stroke="#fff" stroke-width="3.5" stroke-linecap="round" opacity="0.14" filter="url(#b2)"/>
<path d="M109.26,461.74A23,23 0 0 1 107.78,495.62" fill="none" stroke="#fff" stroke-width="3.5" stroke-linecap="round" opacity="0.09" filter="url(#b2)"/>
<path d="M81.5,496.19A21,21 0 0 1 84.82,458.27" fill="none" stroke="#fff" stroke-width="3.5" stroke-linecap="round" opacity="0.04" filter="url(#b2)"/>
<ellipse cx="94.8" cy="488" rx="10" ry="7.5" fill="url(#gb)" opacity="0.26"/>
<ellipse cx="88" cy="463" rx="9" ry="5.5" fill="url(#gb)" opacity="0.12" transform="rotate(20 88 463)"/>
<ellipse cx="98" cy="462" rx="8" ry="5" fill="url(#gb)" opacity="0.08" transform="rotate(20 98 462)"/>
<ellipse cx="107.5" cy="478" rx="4" ry="8" fill="url(#gb)" opacity="0.12"/>
<ellipse cx="115" cy="484" rx="4" ry="7" fill="url(#gb)" opacity="0.07"/>
<ellipse cx="94.9" cy="475.8" rx="12.6" ry="11.2" fill="url(#gb)" opacity="0.98" transform="rotate(25 94.9 475.8)"/>
<ellipse cx="95" cy="475.8" rx="7.6" ry="6.6" fill="url(#gb)" opacity="0.85" transform="rotate(25 95 475.8)"/>
<ellipse cx="78.6" cy="480.4" rx="8.2" ry="9.8" fill="url(#gb)" opacity="0.86"/>
<ellipse cx="78.6" cy="480.6" rx="3.2" ry="4.2" fill="url(#gb)" opacity="0.25"/>
<ellipse cx="86" cy="478" rx="5" ry="5" fill="url(#gb)" opacity="0.3"/>
</g></g>
<text class="pl" x="11.3" y="422.5">(f) 600 ns</text>
<clipPath id="cp11"><rect x="175" y="404" width="171.4" height="150"/></clipPath>
<g clip-path="url(#cp11)"><g filter="url(#jet)">
<rect x="172" y="401" width="177.4" height="156" fill="#090909"/>
<ellipse cx="257" cy="478" rx="82" ry="68" fill="url(#gb)" opacity="0.09"/>
<ellipse cx="256" cy="476" rx="22" ry="21" fill="#fff" opacity="0.05" filter="url(#b4)"/>
<path d="M228.42,495.5A33,33 0 0 1 268.29,447.99" fill="none" stroke="#fff" stroke-width="4.5" stroke-linecap="round" opacity="0.05" filter="url(#b2)"/>
<path d="M288.18,461A36,36 0 0 1 263.25,514.45" fill="none" stroke="#fff" stroke-width="4.5" stroke-linecap="round" opacity="0.04" filter="url(#b2)"/>
<path d="M276.05,491A22,22 0 0 1 237.95,491" fill="none" stroke="#fff" stroke-width="4.5" stroke-linecap="round" opacity="0.06" filter="url(#b2)"/>
<path d="M236,476A20,20 0 0 1 266,458.68" fill="none" stroke="#fff" stroke-width="4" stroke-linecap="round" opacity="0.05" filter="url(#b2)"/>
<ellipse cx="246" cy="456" rx="10" ry="9" fill="url(#gb)" opacity="0.16"/>
<ellipse cx="237.6" cy="474.5" rx="7.5" ry="10" fill="url(#gb)" opacity="0.24"/>
<ellipse cx="269.5" cy="480.5" rx="9" ry="8" fill="url(#gb)" opacity="0.28" transform="rotate(30 269.5 480.5)"/>
<ellipse cx="263" cy="473" rx="7" ry="9" fill="url(#gb)" opacity="0.18"/>
<ellipse cx="252" cy="485" rx="8" ry="10" fill="url(#gb)" opacity="0.36"/>
<ellipse cx="244" cy="484" rx="6" ry="6" fill="url(#gb)" opacity="0.14"/>
<ellipse cx="251.7" cy="471" rx="10.4" ry="12.4" fill="url(#gb)" opacity="0.98"/>
<ellipse cx="251.7" cy="470.6" rx="6" ry="7" fill="url(#gb)" opacity="0.85"/>
</g></g>
<text class="pl" x="185.3" y="422.5">(g) 700 ns</text>
<clipPath id="cp12"><rect x="348.9" y="404" width="170.7" height="150"/></clipPath>
<g clip-path="url(#cp12)"><g filter="url(#jet)">
<rect x="345.9" y="401" width="176.7" height="156" fill="#090909"/>
<ellipse cx="428" cy="478" rx="85" ry="62" fill="url(#gb)" opacity="0.1"/>
<ellipse cx="402" cy="473" rx="28" ry="24" fill="#fff" opacity="0.07" filter="url(#b4)"/>
<ellipse cx="392" cy="483" rx="10" ry="9" fill="#fff" opacity="0.05" filter="url(#b2)"/>
<ellipse cx="404" cy="490" rx="10" ry="7" fill="#fff" opacity="0.06" filter="url(#b2)"/>
<ellipse cx="386" cy="452" rx="9" ry="6" fill="#fff" opacity="0.05" filter="url(#b2)"/>
<ellipse cx="446" cy="466" rx="17" ry="17" fill="#fff" opacity="0.09" filter="url(#b4)"/>
<ellipse cx="446.3" cy="465.7" rx="14" ry="14.5" fill="#fff" opacity="0.21" filter="url(#b2)"/>
<path d="M431.71,474.25A16.5,16.5 0 1 1 454.25,480.29" fill="none" stroke="#fff" stroke-width="3" stroke-linecap="round" opacity="0.1" filter="url(#b1)"/>
<path d="M425.23,471.56A21.5,21.5 0 0 1 463.61,453.67" fill="none" stroke="#fff" stroke-width="2.6" stroke-linecap="round" opacity="0.26" filter="url(#b1)"/>
<path d="M420.39,470.51A26,26 0 0 1 460.91,444.7" fill="none" stroke="#fff" stroke-width="2.4" stroke-linecap="round" opacity="0.18" filter="url(#b1)"/>
<path d="M415.62,468.66A30.5,30.5 0 0 1 446,435.5" fill="none" stroke="#fff" stroke-width="2.4" stroke-linecap="round" opacity="0.1" filter="url(#b1)"/>
<path d="M453.18,485.73A21,21 0 0 1 425.32,469.65" fill="none" stroke="#fff" stroke-width="2.4" stroke-linecap="round" opacity="0.14" filter="url(#b1)"/>
<path d="M446,491.5A25.5,25.5 0 0 1 422.04,474.72" fill="none" stroke="#fff" stroke-width="2.2" stroke-linecap="round" opacity="0.08" filter="url(#b1)"/>
<path d="M460.94,453.47A19.5,19.5 0 0 1 455.75,482.89" fill="none" stroke="#fff" stroke-width="2.6" stroke-linecap="round" opacity="0.12" filter="url(#b1)"/>
<ellipse cx="450" cy="456" rx="12.4" ry="7.75" fill="url(#gb)" opacity="0.24" transform="rotate(15 450 456)"/>
<ellipse cx="458" cy="463" rx="6.2" ry="9.3" fill="url(#gb)" opacity="0.16" transform="rotate(-20 458 463)"/>
<ellipse cx="446.3" cy="464" rx="3.72" ry="4.03" fill="url(#gb)" opacity="0.3"/>
<ellipse cx="447" cy="477" rx="9.3" ry="6.2" fill="url(#gb)" opacity="0.2"/>
<ellipse cx="431.5" cy="466" rx="4.65" ry="13.95" fill="url(#gb)" opacity="0.14"/>
<ellipse cx="437.1" cy="459.3" rx="4.5" ry="4.19" fill="url(#gb)" opacity="0.92"/>
<ellipse cx="437.1" cy="459.3" rx="2.17" ry="2.02" fill="url(#gb)" opacity="0.5"/>
<ellipse cx="453.8" cy="469" rx="4.03" ry="7.13" fill="url(#gb)" opacity="0.9" transform="rotate(40 453.8 469)"/>
<ellipse cx="454" cy="468.8" rx="2.02" ry="3.72" fill="url(#gb)" opacity="0.4" transform="rotate(40 454 468.8)"/>
<ellipse cx="436.5" cy="469.7" rx="3.72" ry="4.65" fill="url(#gb)" opacity="0.86" transform="rotate(-15 436.5 469.7)"/>
<ellipse cx="436.5" cy="476.8" rx="5.27" ry="3.41" fill="url(#gb)" opacity="0.88"/>
<ellipse cx="436.5" cy="476.8" rx="2.48" ry="1.55" fill="url(#gb)" opacity="0.4"/>
<ellipse cx="399.3" cy="488.8" rx="5.61" ry="8.91" fill="url(#gb)" opacity="0.6" transform="rotate(-8 399.3 488.8)"/>
<ellipse cx="410" cy="491.5" rx="5.61" ry="9.3" fill="url(#gb)" opacity="0.42" transform="rotate(-8 410 491.5)"/>
<ellipse cx="382.5" cy="450.5" rx="5.04" ry="8.91" fill="url(#gb)" opacity="0.32"/>
<ellipse cx="373.7" cy="455.2" rx="5.04" ry="6.98" fill="url(#gb)" opacity="0.12"/>
<ellipse cx="390" cy="451" rx="5.04" ry="5.81" fill="url(#gb)" opacity="0.16"/>
<ellipse cx="397" cy="452.6" rx="5.04" ry="5.81" fill="url(#gb)" opacity="0.14"/>
<ellipse cx="408" cy="457.2" rx="3.49" ry="7.75" fill="url(#gb)" opacity="0.16" transform="rotate(10 408 457.2)"/>
<ellipse cx="414.8" cy="451" rx="4.65" ry="6.59" fill="url(#gb)" opacity="0.24"/>
<ellipse cx="385.2" cy="480" rx="6.59" ry="10.46" fill="url(#gb)" opacity="0.34" transform="rotate(-15 385.2 480)"/>
<ellipse cx="389" cy="486" rx="5.81" ry="6.59" fill="url(#gb)" opacity="0.16"/>
<ellipse cx="394" cy="471.3" rx="5.04" ry="6.59" fill="url(#gb)" opacity="0.16"/>
<ellipse cx="401.5" cy="474" rx="9.69" ry="3.88" fill="url(#gb)" opacity="0.16" transform="rotate(-35 401.5 474)"/>
<ellipse cx="409.5" cy="470.5" rx="9.69" ry="3.49" fill="url(#gb)" opacity="0.16" transform="rotate(-35 409.5 470.5)"/>
<ellipse cx="417" cy="474" rx="5.81" ry="3.88" fill="url(#gb)" opacity="0.12" transform="rotate(-35 417 474)"/>
<ellipse cx="419.5" cy="497.5" rx="4.65" ry="6.59" fill="url(#gb)" opacity="0.18"/>
<ellipse cx="393" cy="501" rx="5.81" ry="7.75" fill="url(#gb)" opacity="0.12"/>
<ellipse cx="405" cy="500" rx="5.81" ry="5.81" fill="url(#gb)" opacity="0.1"/>
<ellipse cx="378" cy="468" rx="5.81" ry="7.75" fill="url(#gb)" opacity="0.08"/>
<ellipse cx="421" cy="486" rx="5.81" ry="5.81" fill="url(#gb)" opacity="0.12"/>
<ellipse cx="428" cy="492" rx="7.75" ry="5.81" fill="url(#gb)" opacity="0.1"/>
<ellipse cx="475.8" cy="480.2" rx="4.96" ry="5.89" fill="url(#gb)" opacity="0.3" transform="rotate(-20 475.8 480.2)"/>
<ellipse cx="473.5" cy="467.8" rx="5.58" ry="3.72" fill="url(#gb)" opacity="0.24"/>
<ellipse cx="468" cy="457" rx="4.65" ry="3.72" fill="url(#gb)" opacity="0.16"/>
<ellipse cx="462" cy="485" rx="5.27" ry="4.03" fill="url(#gb)" opacity="0.16"/>
<ellipse cx="470" cy="474" rx="4.03" ry="4.03" fill="url(#gb)" opacity="0.12"/>
<ellipse cx="482" cy="463" rx="4.65" ry="3.72" fill="url(#gb)" opacity="0.08"/>
</g></g>
<text class="pl" x="359.2" y="422.5">(h) 780 ns</text>
<path d="M4,387.4H170" stroke="#fff" stroke-width="1.8" fill="none"/>
<path d="M8.6,384.2L3,387.4L8.6,390.6M165.4,384.2L171,387.4L165.4,390.6" stroke="#fff" stroke-width="1.7" fill="none" stroke-linejoin="miter"/>
<text class="pl" x="83.4" y="381.2" text-anchor="middle">600 μm</text>
</g>
</svg></body></html>
